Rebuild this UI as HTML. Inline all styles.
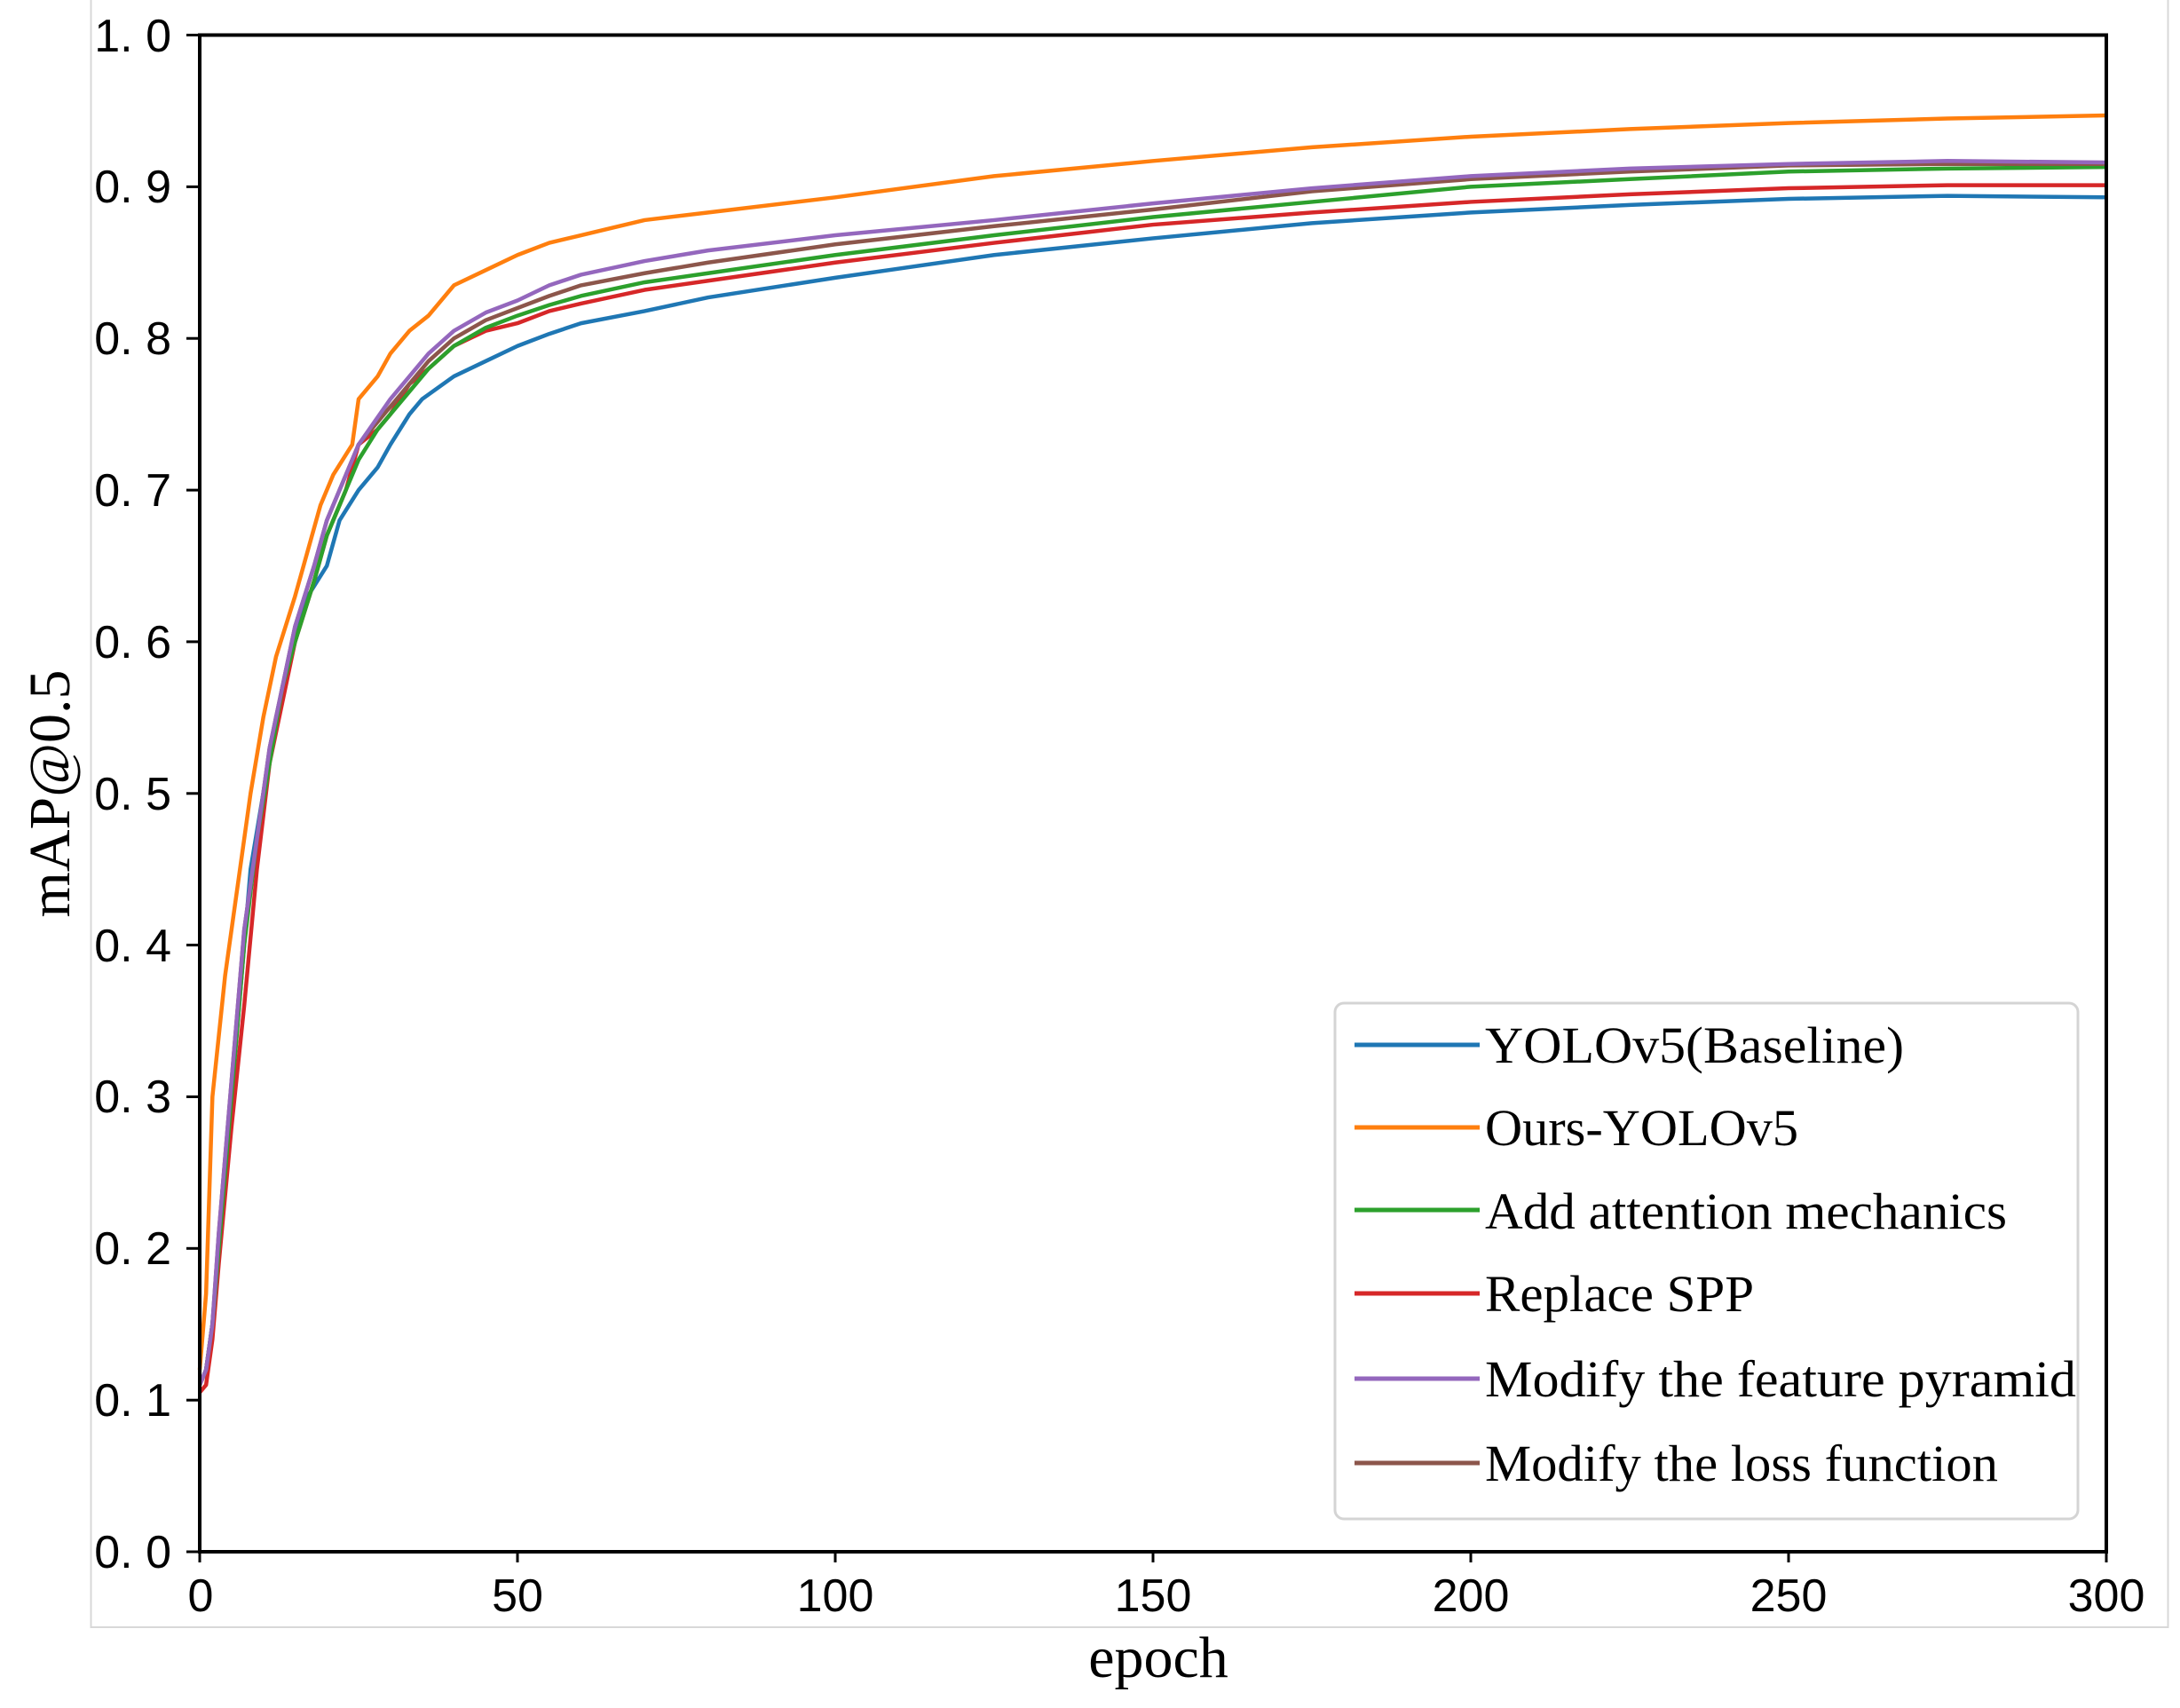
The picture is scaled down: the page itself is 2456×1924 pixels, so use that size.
<!DOCTYPE html>
<html><head><meta charset="utf-8"><style>
html,body{margin:0;padding:0;background:#fff;}
svg{display:block;}
</style></head><body>
<svg width="2456" height="1924" viewBox="0 0 2456 1924" xmlns="http://www.w3.org/2000/svg">
<rect x="0" y="0" width="2456" height="1924" fill="#fff"/>
<rect x="102.5" y="-2" width="2340" height="1835" fill="none" stroke="#d8d8d8" stroke-width="2"/>
<g transform="translate(225,1748) scale(7.16,-1708.5)" fill="none" stroke-width="4.5" stroke-linejoin="round">
<polyline vector-effect="non-scaling-stroke" stroke="#1f77b4" points="0,0.11 1,0.12 2,0.15 3,0.2 5,0.3 7,0.4 8,0.45 10,0.5 12,0.55 15,0.6 17,0.63 20,0.65 22,0.68 25,0.7 28,0.715 30,0.73 33,0.75 35,0.76 40,0.775 45,0.785 50,0.795 55,0.803 60,0.81 70,0.818 80,0.827 100,0.84 125,0.855 150,0.866 175,0.876 200,0.883 225,0.888 250,0.892 275,0.894 300,0.893"/>
<polyline vector-effect="non-scaling-stroke" stroke="#d62728" points="0,0.105 1,0.11 2,0.14 3,0.19 5,0.28 7,0.36 9,0.45 11,0.52 13,0.56 15,0.6 18,0.64 20,0.67 23,0.7 25,0.73 28,0.74 30,0.75 33,0.77 36,0.78 40,0.795 45,0.805 50,0.81 55,0.818 60,0.823 70,0.832 80,0.838 100,0.85 125,0.863 150,0.875 175,0.883 200,0.89 225,0.895 250,0.899 275,0.901 300,0.901"/>
<polyline vector-effect="non-scaling-stroke" stroke="#2ca02c" points="0,0.11 1,0.12 2,0.15 3,0.2 5,0.3 7,0.4 9,0.47 11,0.52 13,0.57 15,0.6 18,0.64 20,0.67 23,0.7 25,0.72 28,0.74 30,0.75 33,0.765 36,0.78 40,0.795 45,0.807 50,0.815 55,0.822 60,0.828 70,0.837 80,0.843 100,0.855 125,0.868 150,0.88 175,0.89 200,0.9 225,0.905 250,0.91 275,0.912 300,0.913"/>
<polyline vector-effect="non-scaling-stroke" stroke="#8c564b" points="0,0.11 1,0.12 2,0.15 3,0.21 5,0.31 7,0.41 9,0.47 11,0.53 13,0.57 15,0.61 18,0.65 20,0.68 23,0.71 25,0.73 28,0.745 30,0.755 33,0.77 36,0.785 40,0.8 45,0.812 50,0.82 55,0.828 60,0.835 70,0.843 80,0.85 100,0.862 125,0.874 150,0.885 175,0.897 200,0.905 225,0.91 250,0.914 275,0.915 300,0.915"/>
<polyline vector-effect="non-scaling-stroke" stroke="#9467bd" points="0,0.11 1,0.12 2,0.15 3,0.21 5,0.31 7,0.41 9,0.47 11,0.53 13,0.57 15,0.61 18,0.65 20,0.68 23,0.71 25,0.73 28,0.748 30,0.76 33,0.775 36,0.79 40,0.805 45,0.817 50,0.825 55,0.835 60,0.842 70,0.851 80,0.858 100,0.868 125,0.878 150,0.889 175,0.899 200,0.907 225,0.912 250,0.915 275,0.917 300,0.916"/>
<polyline vector-effect="non-scaling-stroke" stroke="#ff7f0e" points="0,0.12 1,0.17 2,0.3 4,0.38 6,0.44 8,0.5 10,0.55 12,0.59 15,0.63 17,0.66 19,0.69 21,0.71 24,0.73 25,0.76 28,0.775 30,0.79 33,0.805 36,0.815 40,0.835 45,0.845 50,0.855 55,0.863 60,0.868 70,0.878 80,0.883 100,0.893 125,0.907 150,0.917 175,0.926 200,0.933 225,0.938 250,0.942 275,0.945 300,0.947"/>
</g>
<g stroke="#000" stroke-width="4" fill="none">
<rect x="225" y="39.5" width="2148" height="1708.5"/>
</g>
<g stroke="#000" stroke-width="3">
<line x1="210" y1="1748" x2="225" y2="1748"/><line x1="210" y1="1577.2" x2="225" y2="1577.2"/><line x1="210" y1="1406.3" x2="225" y2="1406.3"/><line x1="210" y1="1235.5" x2="225" y2="1235.5"/><line x1="210" y1="1064.6" x2="225" y2="1064.6"/><line x1="210" y1="893.8" x2="225" y2="893.8"/><line x1="210" y1="722.9" x2="225" y2="722.9"/><line x1="210" y1="552.1" x2="225" y2="552.1"/><line x1="210" y1="381.2" x2="225" y2="381.2"/><line x1="210" y1="210.4" x2="225" y2="210.4"/><line x1="210" y1="39.5" x2="225" y2="39.5"/>
<line x1="225" y1="1748" x2="225" y2="1760"/><line x1="583" y1="1748" x2="583" y2="1760"/><line x1="941" y1="1748" x2="941" y2="1760"/><line x1="1299" y1="1748" x2="1299" y2="1760"/><line x1="1657" y1="1748" x2="1657" y2="1760"/><line x1="2015" y1="1748" x2="2015" y2="1760"/><line x1="2373" y1="1748" x2="2373" y2="1760"/>
</g>
<g font-family="Liberation Sans, sans-serif" font-size="52" fill="#000" text-anchor="end">
<text x="193" y="1766">0. 0</text><text x="193" y="1595">0. 1</text><text x="193" y="1424">0. 2</text><text x="193" y="1253">0. 3</text><text x="193" y="1083">0. 4</text><text x="193" y="912">0. 5</text><text x="193" y="741">0. 6</text><text x="193" y="570">0. 7</text><text x="193" y="399">0. 8</text><text x="193" y="228">0. 9</text><text x="193" y="58">1. 0</text>
</g>
<g font-family="Liberation Sans, sans-serif" font-size="52" fill="#000" text-anchor="middle">
<text x="226" y="1815">0</text><text x="583" y="1815">50</text><text x="941" y="1815">100</text><text x="1299" y="1815">150</text><text x="1657" y="1815">200</text><text x="2015" y="1815">250</text><text x="2373" y="1815">300</text>
</g>
<text x="1305" y="1889" font-family="Liberation Serif, serif" font-size="66" text-anchor="middle">epoch</text>
<text transform="translate(78,894) rotate(-90)" font-family="Liberation Serif, serif" font-size="66" text-anchor="middle">mAP@0.5</text>
<rect x="1504" y="1130" width="837" height="581" rx="10" fill="#fff" stroke="#d4d4d4" stroke-width="3"/>
<g stroke-width="5">
<line x1="1526" y1="1177" x2="1667" y2="1177" stroke="#1f77b4"/>
<line x1="1526" y1="1270" x2="1667" y2="1270" stroke="#ff7f0e"/>
<line x1="1526" y1="1363" x2="1667" y2="1363" stroke="#2ca02c"/>
<line x1="1526" y1="1457" x2="1667" y2="1457" stroke="#d62728"/>
<line x1="1526" y1="1553" x2="1667" y2="1553" stroke="#9467bd"/>
<line x1="1526" y1="1648" x2="1667" y2="1648" stroke="#8c564b"/>
</g>
<g font-family="Liberation Serif, serif" font-size="58" fill="#000">
<text x="1673" y="1197" textLength="472" lengthAdjust="spacingAndGlyphs">YOLOv5(Baseline)</text>
<text x="1673" y="1290" textLength="353" lengthAdjust="spacingAndGlyphs">Ours-YOLOv5</text>
<text x="1673" y="1384" textLength="588" lengthAdjust="spacingAndGlyphs">Add attention mechanics</text>
<text x="1673" y="1477" textLength="303" lengthAdjust="spacingAndGlyphs">Replace SPP</text>
<text x="1673" y="1573" textLength="666" lengthAdjust="spacingAndGlyphs">Modify the feature pyramid</text>
<text x="1673" y="1668" textLength="578" lengthAdjust="spacingAndGlyphs">Modify the loss function</text>
</g>
</svg>
</body></html>
